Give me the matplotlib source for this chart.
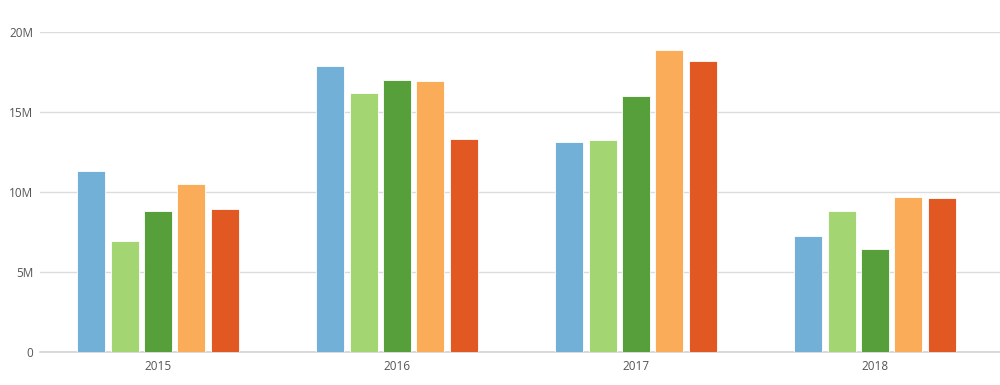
import matplotlib.pyplot as plt
import numpy as np

years = ["2015", "2016", "2017", "2018"]
series_a = [11.28, 17.84, 13.11, 7.22]
series_b = [6.89, 16.20, 13.26, 8.78]
series_c = [8.78, 16.99, 15.99, 6.41]
series_d = [10.51, 16.95, 18.90, 9.64]
series_e = [8.91, 13.32, 18.18, 9.61]
y_ticks = [0, 5, 10, 15, 20]
y_labels = ["0", "5M", "10M", "15M", "20M"]

colors = ["#72b0d8", "#a3d672", "#579f3a", "#faac58", "#e25822"]

plt.rcParams['font.family'] = ['Open Sans', 'DejaVu Sans']

fig = plt.figure(figsize=(10, 3.85), dpi=100)
ax = fig.add_axes([0.04, 0.087, 0.96, 0.83])

x = np.arange(len(years))
step = 0.1397
width = 0.117
for i, (vals, col) in enumerate(zip([series_a, series_b, series_c, series_d, series_e], colors)):
    ax.bar(x + (i - 2) * step, vals, width=width, color=col,
           edgecolor='white', linewidth=0.6, zorder=3)

ax.set_xlim(-0.494, 3.523)
ax.set_ylim(0, 20)
ax.set_xticks(x)
ax.set_xticklabels(years)
ax.set_yticks(y_ticks)
ax.set_yticklabels(y_labels)

ax.yaxis.grid(True, color='#dcdcdc', linewidth=1.0, zorder=0)
ax.set_axisbelow(True)
for s in ['top', 'right', 'left']:
    ax.spines[s].set_visible(False)
ax.spines['bottom'].set_color('#d0d0d0')
ax.spines['bottom'].set_linewidth(1.1)
ax.tick_params(axis='both', length=0, labelsize=8.5, colors='#555555')
ax.tick_params(axis='y', pad=5)
ax.tick_params(axis='x', pad=6)

fig.savefig("out.png", dpi=100)
